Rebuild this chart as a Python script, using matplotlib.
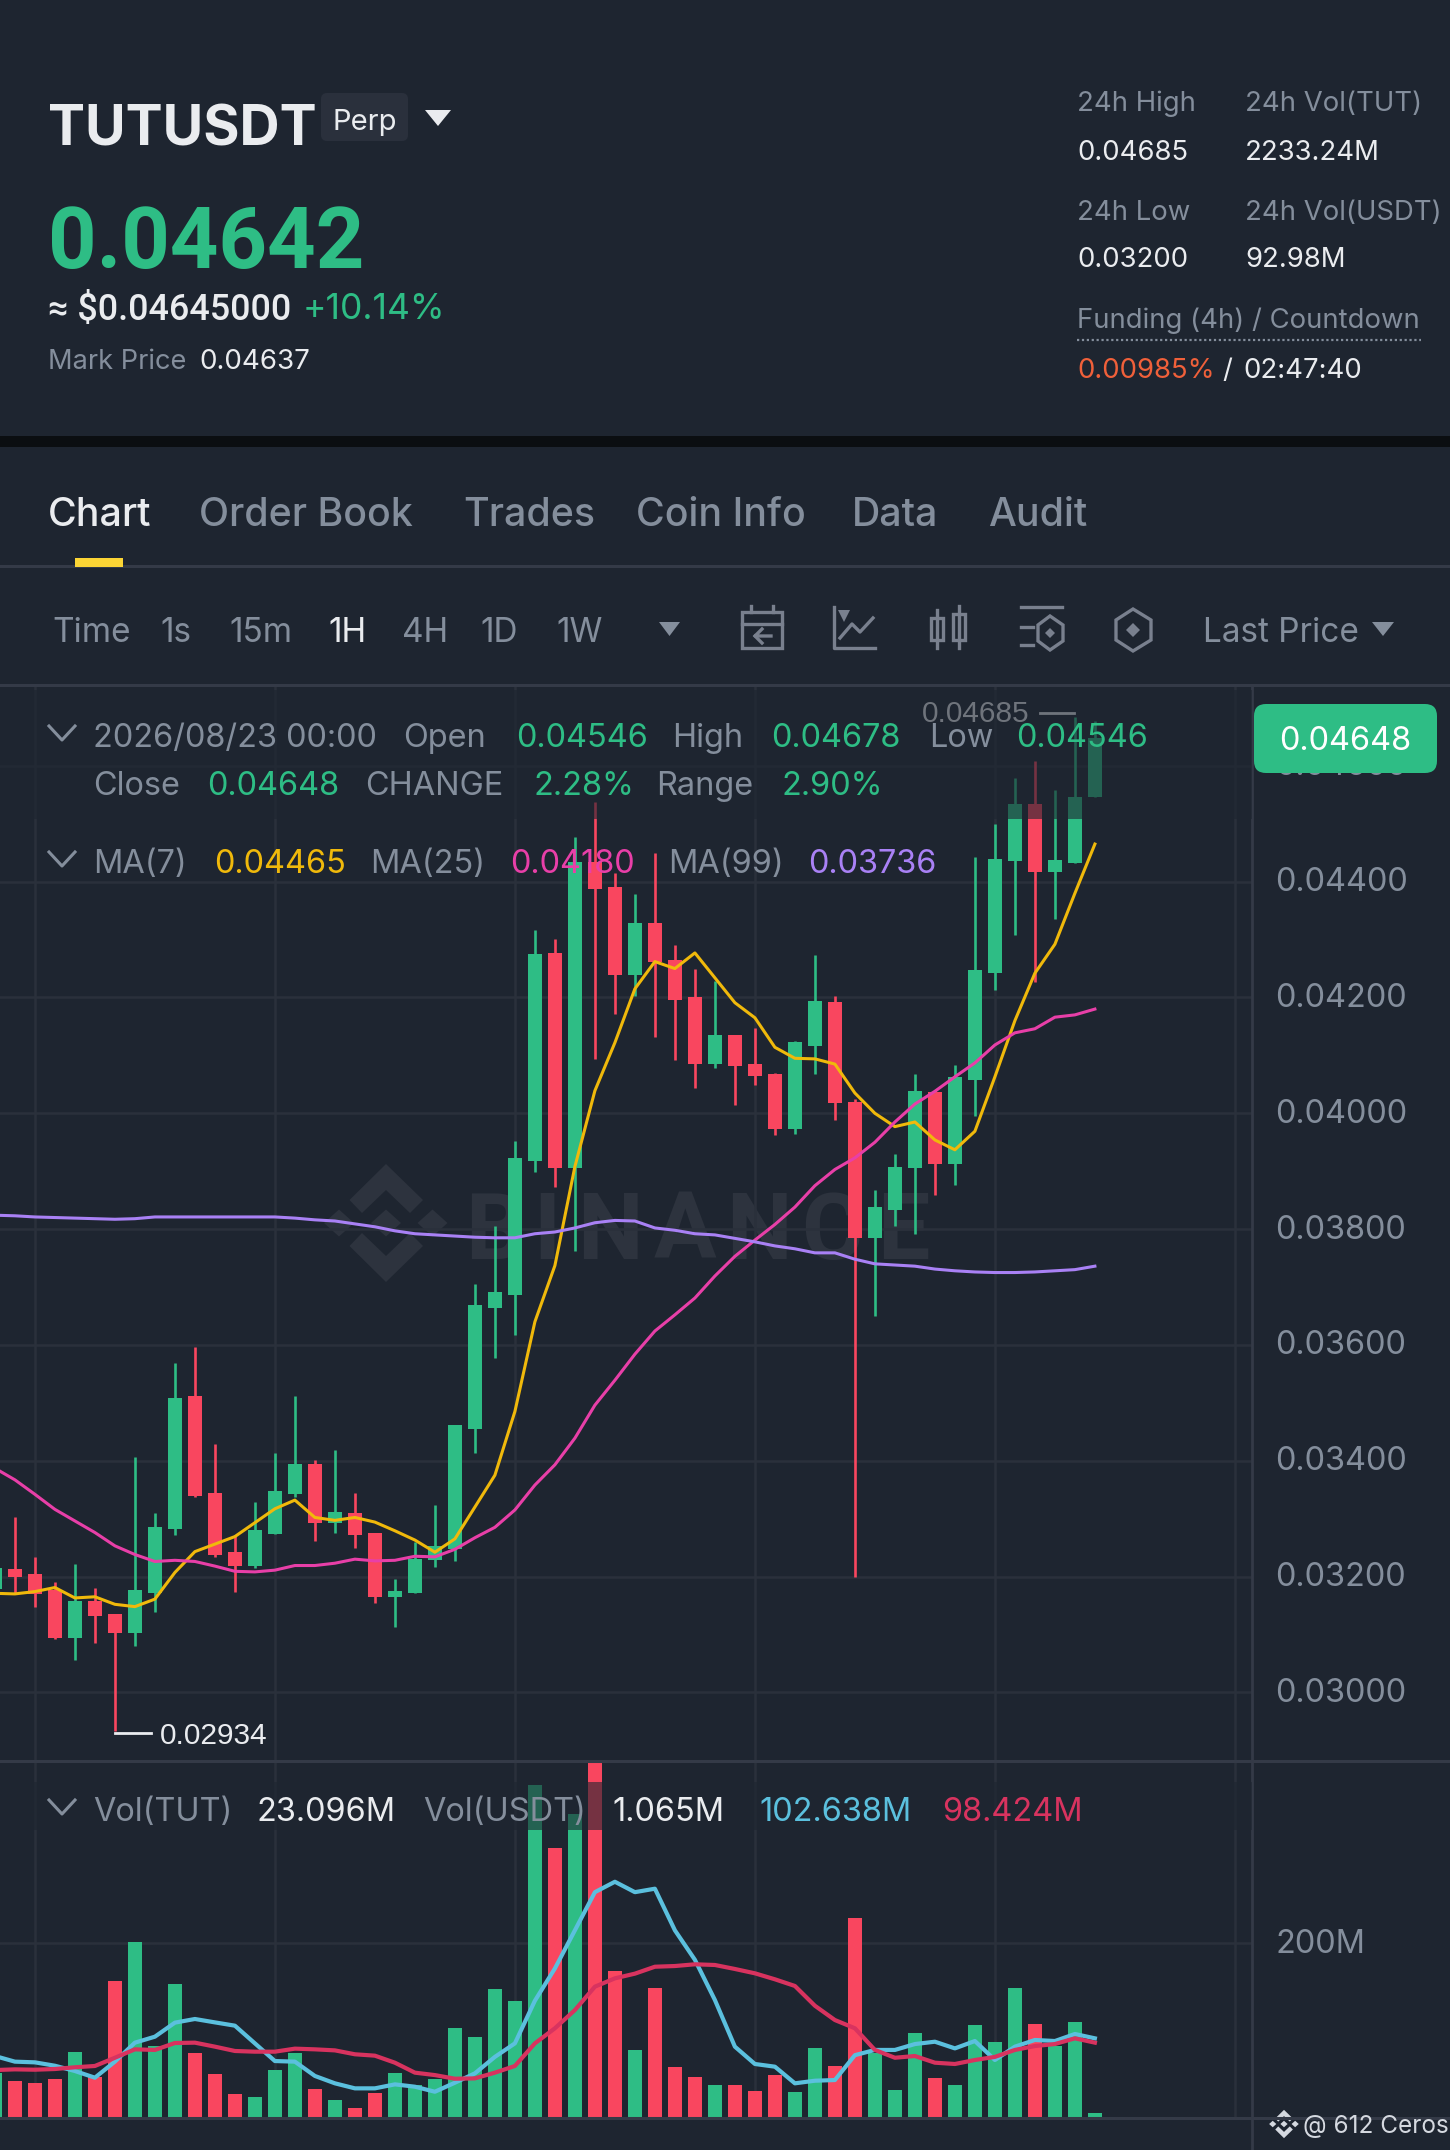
import matplotlib
matplotlib.use('Agg')
import matplotlib.pyplot as plt
from matplotlib.patches import Rectangle, FancyBboxPatch, Polygon
from matplotlib.transforms import ScaledTranslation
import numpy as np

plt.rcParams['font.family'] = ['Inter', 'DejaVu Sans']

# prices are in units of 0.00001
opens = [3179, 3213, 3204, 3176, 3094, 3158, 3135, 3102, 3172, 3282, 3511, 3345, 3243, 3218,
         3274, 3342, 3394, 3293, 3310, 3275, 3164, 3171, 3229, 3248, 3455, 3664, 3686, 3918,
         4276, 3905, 4434, 4391, 4239, 4329, 4265, 4201, 4085, 4135, 4086, 4068, 3973, 4117,
         4193, 4020, 3785, 3833, 3905, 4037, 3912, 4058, 4242, 4435, 4534, 4416, 4432, 4546]
closes = [3214, 3199, 3170, 3093, 3157, 3131, 3102, 3176, 3285, 3509, 3339, 3238, 3218, 3280,
          3347, 3395, 3292, 3311, 3271, 3164, 3175, 3231, 3252, 3461, 3669, 3691, 3923, 4275,
          3905, 4434, 4387, 4238, 4328, 4261, 4196, 4085, 4135, 4082, 4064, 3973, 4124, 4194,
          4017, 3785, 3838, 3908, 4038, 3912, 4063, 4248, 4439, 4534, 4416, 4437, 4546, 4648]
highs = [3230, 3302, 3233, 3190, 3222, 3181, 3135, 3407, 3309, 3568, 3596, 3429, 3272, 3328,
         3413, 3511, 3402, 3419, 3344, 3276, 3195, 3260, 3323, 3462, 3706, 3806, 3953, 4317,
         4301, 4477, 4538, 4415, 4379, 4450, 4291, 4249, 4228, 4135, 4147, 4070, 4125, 4273,
         4203, 4024, 3868, 3929, 4068, 4040, 4083, 4443, 4500, 4579, 4608, 4558, 4685, 4678]
lows = [3160, 3171, 3148, 3092, 3056, 3085, 2934, 3080, 3139, 3271, 3338, 3234, 3174, 3214,
        3274, 3338, 3262, 3276, 3250, 3155, 3113, 3171, 3217, 3226, 3414, 3578, 3617, 3898,
        3873, 3763, 4093, 4172, 4203, 4132, 4092, 4043, 4078, 4014, 4049, 3963, 3964, 4068,
        3989, 3200, 3650, 3806, 3792, 3859, 3876, 3995, 4213, 4308, 4227, 4335, 4432, 4546]
ma7 = [3171, 3170, 3174, 3181, 3163, 3165, 3152, 3148, 3161, 3207, 3243, 3256, 3269, 3293,
       3317, 3332, 3302, 3297, 3302, 3294, 3279, 3263, 3242, 3265, 3320, 3375, 3485, 3640,
       3737, 3908, 4039, 4122, 4215, 4262, 4250, 4277, 4234, 4191, 4165, 4114, 4095, 4094,
       4085, 4035, 4000, 3977, 3985, 3954, 3937, 3969, 4063, 4160, 4242, 4292, 4380, 4465]
ma25 = [3387, 3367, 3342, 3316, 3296, 3276, 3253, 3238, 3226, 3228, 3226, 3218, 3209, 3208,
        3211, 3219, 3219, 3223, 3230, 3227, 3228, 3235, 3234, 3247, 3267, 3285, 3315, 3358,
        3393, 3439, 3496, 3539, 3584, 3624, 3652, 3681, 3719, 3753, 3781, 3808, 3838, 3875,
        3903, 3923, 3950, 3985, 4016, 4038, 4063, 4087, 4118, 4139, 4146, 4166, 4170, 4180]
ma99 = [3824, 3823, 3821, 3820, 3819, 3818, 3817, 3818, 3821, 3821, 3821, 3821, 3821, 3821,
        3821, 3819, 3816, 3814, 3809, 3804, 3797, 3792, 3790, 3788, 3786, 3785, 3785, 3792,
        3795, 3802, 3811, 3815, 3814, 3802, 3798, 3792, 3790, 3784, 3778, 3771, 3766, 3759,
        3759, 3748, 3740, 3738, 3736, 3731, 3728, 3726, 3725, 3725, 3726, 3728, 3730, 3736]

# volume in millions
volume = [50, 41, 39, 43, 75, 46, 157, 202, 81, 153, 74, 49, 26, 23, 54, 74, 32, 19, 10, 27,
          50, 36, 43, 102, 92, 147, 134, 383, 310, 349, 408, 168, 77, 149, 57, 46, 36, 37, 30,
          48, 28, 79, 58, 229, 73, 31, 96, 45, 37, 106, 86, 148, 107, 81, 109, 4]
vol_ma5 = [70, 63.5, 62.7, 58.8, 52.7, 45, 63.5, 85.4, 92.3, 108.5, 112.7, 108.8, 105, 84.6,
           64.2, 63.5, 47, 38.5, 32.7, 32.7, 37.3, 34.6, 28.8, 39.2, 50, 69, 84.6, 133.8, 171,
           215, 259, 271, 259, 263, 215, 181, 134.6, 80.8, 60.8, 57.7, 38.5, 41.5, 42.3, 71,
           77, 77, 83.8, 86.5, 78.8, 87.3, 65.4, 80.8, 88.5, 87.3, 95.4, 90.4]
vol_ma10 = [53.8, 54.6, 54.2, 55, 57, 58.5, 68, 77.7, 77, 85, 85.4, 80.8, 75.8, 75, 75, 78.5,
            77.7, 76.5, 72, 70.4, 62.3, 50.8, 48, 43.8, 44.2, 50.8, 58.5, 84.6, 102, 123, 150,
            159.6, 165, 173, 173.8, 175.8, 175, 170.4, 165.4, 158.5, 150.8, 128, 111.5, 102,
            77, 68, 70, 62.3, 60.8, 65.4, 69, 77, 81.5, 83.8, 90.4, 85.4]

price_ticks = [3000, 3200, 3400, 3600, 3800, 4000, 4200, 4400, 4600]
vol_ticks = [200]
grid_candles = [2, 14, 26, 38, 50, 62]

BG = '#1e2530'
GRID = '#2a303b'
LINE = '#343a47'
GREEN = '#2ebd85'
RED = '#f9465f'
GREY = '#848e9c'
WHITE = '#eaecef'
W, H = 1450, 2150

fig = plt.figure(figsize=(W / 100, H / 100), dpi=100, facecolor=BG)


def pixel_axes(x0, y0, x1, y1, z):
    a = fig.add_axes([x0 / W, 1 - y1 / H, (x1 - x0) / W, (y1 - y0) / H], zorder=z)
    a.patch.set_alpha(0)
    return a


def style_pane(a):
    a.set_xlim(0.255, 62.855)
    a.set_xticks(grid_candles)
    a.yaxis.tick_right()
    a.tick_params(axis='y', length=0, pad=17, labelcolor=GREY, labelsize=23.4)
    a.tick_params(axis='x', length=0, labelbottom=False)
    a.grid(color=GRID, lw=1.8)
    a.set_axisbelow(True)
    for s in a.spines.values():
        s.set_visible(False)
    # axis labels sit a little above their gridlines
    for tick in a.yaxis.get_major_ticks():
        tick.label2.set_transform(tick.label2.get_transform() + ScaledTranslation(0, 0.025, fig.dpi_scale_trans))


def binance_logo(a, cx, cy, k, color):
    # k=1 is the big watermark
    def pts(p):
        return [(cx + u * k, cy + v * k) for u, v in p]
    chev = [(-36.5, -23), (0, -59), (37, -23), (24, -10), (0, -33), (-24, -10)]
    a.add_patch(Polygon(pts(chev), color=color, lw=0))
    a.add_patch(Polygon(pts([(u, -v) for u, v in chev]), color=color, lw=0))
    for dx in (-47, 0, 46.5):
        a.add_patch(Polygon(pts([(dx - 15, 0), (dx, -13.5), (dx + 15, 0), (dx, 13.5)]), color=color, lw=0))


# background layer, watermark sits under the candles
back = pixel_axes(0, 0, W, H, 0)
back.set_xlim(0, W)
back.set_ylim(H, 0)
back.axis('off')
back.add_patch(Rectangle((0, 436), W, 11, color='#0b0e11', lw=0))
WM = '#2d333e'
binance_logo(back, 386, 1223, 1, WM)
for px, ch in [(495, 'B'), (547, 'I'), (610, 'N'), (685, 'A'), (759, 'N'), (832, 'C'), (903, 'E')]:
    back.text(px, 1224, ch, color=WM, fontsize=67, fontweight='bold', family='Roboto', ha='center', va='center_baseline')

x = np.arange(len(opens))
opens, closes, highs, lows = [np.array(v) / 1e5 for v in (opens, closes, highs, lows)]
up = closes >= opens
colors = [GREEN if u else RED for u in up]

# price pane
ax = pixel_axes(0, 685, 1252, 1761, 1)
ax.set_ylim(0.028814, 0.047397)
ax.set_yticks(np.array(price_ticks) / 1e5)
ax.yaxis.set_major_formatter(lambda v, pos: '%.5f' % v)
style_pane(ax)
ax.vlines(x, lows, highs, colors=colors, lw=1.9, zorder=2)
ax.bar(x, np.abs(closes - opens), bottom=np.minimum(opens, closes), width=0.7, color=colors, zorder=3)
ax.plot(x, np.array(ma7) / 1e5, color='#f0b90b', lw=2.2, zorder=4)
ax.plot(x, np.array(ma25) / 1e5, color='#e83fa8', lw=2.2, zorder=4)
ax.plot(x, np.array(ma99) / 1e5, color='#a981f5', lw=2.2, zorder=4)

# volume pane
vx = pixel_axes(0, 1761, 1252, 2118, 1)
vx.set_ylim(-1.5, 410.3)
vx.set_yticks(vol_ticks)
vx.yaxis.set_major_formatter(lambda v, pos: '%dM' % v)
style_pane(vx)
vx.bar(x, volume, width=0.7, color=colors, zorder=3)
vx.plot(x, vol_ma5, color='#5bc0de', lw=3.0, zorder=4)
vx.plot(x, vol_ma10, color='#d8335f', lw=3.0, zorder=4)

# top layer in pixel coordinates, for the app chrome and the legend texts
top = pixel_axes(0, 0, W, H, 2)
top.set_xlim(0, W)
top.set_ylim(H, 0)
top.axis('off')


def label(px, py, s, color=GREY, size=23.4, weight='normal', ha='left', family=None, z=5):
    kw = {'family': family} if family else {}
    top.text(px, py, s, color=color, fontsize=size, fontweight=weight, ha=ha, va='center_baseline', zorder=z, **kw)


def tri(x0, x1, y0, y1, color):
    top.add_patch(Polygon([(x0, y0), (x1, y0), ((x0 + x1) / 2, y1)], color=color, lw=0))


def chevron(px, py):
    top.plot([px, px + 13, px + 26], [py - 7, py + 7, py - 7], color=GREY, lw=2.2, zorder=5)


# the high label sits under the dimming band
MARK_FONT = ['Liberation Sans']
label(922, 711, '0.04685', WHITE, 21.5, family=MARK_FONT, z=2)
top.plot([1040, 1074], [713, 713], color=WHITE, lw=2, zorder=2)
top.add_patch(Rectangle((0, 690), 1252, 129, color=BG, alpha=0.6, lw=0, zorder=3))
top.add_patch(Rectangle((0, 1782), 1252, 48, color=BG, alpha=0.6, lw=0, zorder=3))

# frame lines
top.plot([0, W], [566, 566], color=LINE, lw=2.2)
top.plot([0, W], [685, 685], color=LINE, lw=2.2)
top.plot([0, W], [1761, 1761], color=LINE, lw=2.2)
top.plot([0, W], [2118, 2118], color=LINE, lw=2.2)
top.plot([1252, 1252], [685, H], color=LINE, lw=2)
top.add_patch(Rectangle((75, 558), 48, 9, color='#fcd535', lw=0, zorder=3))

# header
label(48, 125, 'TUTUSDT', WHITE, 40, 'bold')
top.add_patch(FancyBboxPatch((321, 93), 87, 48, boxstyle='round,pad=0,rounding_size=6', color='#2a303c', lw=0))
label(365, 119, 'Perp', WHITE, 21, ha='center')
tri(425, 451, 110, 126, WHITE)
label(48, 236, '0.04642', GREEN, 61, 'bold', family='Roboto')
label(48, 306, '≈ $0.04645000', WHITE, 25.8, 'medium', family=['Roboto', 'DejaVu Sans'])
label(303, 306, '+10.14%', GREEN, 25.5)
label(48, 359, 'Mark Price', GREY, 19.6)
label(199, 359, '0.04637', WHITE, 20)

label(1077, 101, '24h High', GREY, 19.8)
label(1245, 101, '24h Vol(TUT)', GREY, 19.8)
label(1077, 150, '0.04685', WHITE, 19.8)
label(1245, 150, '2233.24M', WHITE, 19.8)
label(1077, 210, '24h Low', GREY, 19.8)
label(1245, 210, '24h Vol(USDT)', GREY, 19.8)
label(1077, 257, '0.03200', WHITE, 19.8)
label(1245, 257, '92.98M', WHITE, 19.8)
label(1077, 318, 'Funding (4h) / Countdown', GREY, 19.8)
top.plot([1077, 1421], [340, 340], color=GREY, lw=1.6, ls=(0, (1, 1.2)))
label(1077, 368, '0.00985%', '#f0603a', 19.8)
label(1222, 368, '/', WHITE, 19.8)
label(1243, 368, '02:47:40', WHITE, 19.8)

# tabs
for px, s in [(199, 'Order Book'), (463, 'Trades'), (636, 'Coin Info'), (852, 'Data'), (988, 'Audit')]:
    label(px, 511, s, GREY, 28.3, 'medium')
label(48, 511, 'Chart', WHITE, 28.3, 'medium')

# toolbar
for px, s in [(52, 'Time'), (160, '1s'), (229, '15m'), (402, '4H'), (480, '1D'), (556, '1W'), (1203, 'Last Price')]:
    label(px, 630, s, GREY, 24)
label(328, 630, '1H', WHITE, 24)
tri(659, 680, 622, 636, GREY)
tri(1372, 1394, 622, 636, GREY)

IC = '#79808e'
top.add_patch(Rectangle((742, 612), 40, 36, fill=False, ec=IC, lw=2.4))
top.plot([742, 782], [624, 624], color=IC, lw=2.4)
top.plot([751, 751], [606, 612], color=IC, lw=2.4)
top.plot([773, 773], [606, 612], color=IC, lw=2.4)
top.plot([771, 755, 762], [636, 636, 629], color=IC, lw=2.4)
top.plot([762, 755], [643, 636], color=IC, lw=2.4)
top.plot([834, 834, 875], [607, 648, 648], color=IC, lw=2.4)
top.plot([840, 852, 860, 873], [638, 624, 632, 618], color=IC, lw=2.4)
tri(838, 850, 610, 622, IC)
for cx, y0, y1 in [(937, 618, 640), (959, 614, 640)]:
    top.add_patch(Rectangle((cx - 6, y0), 12, y1 - y0, fill=False, ec=IC, lw=2.4))
    top.plot([cx, cx], [y0 - 8, y1 + 8], color=IC, lw=2.4)
top.plot([1021, 1062], [607, 607], color=IC, lw=2.4)
top.plot([1021, 1033], [627, 627], color=IC, lw=2.4)
top.plot([1021, 1033], [645, 645], color=IC, lw=2.4)
top.add_patch(Polygon([(1050, 616), (1063, 625), (1063, 641), (1050, 650), (1038, 641), (1038, 625)], fill=False, ec=IC, lw=2.4))
top.add_patch(Polygon([(1050, 628), (1055, 633), (1050, 638), (1045, 633)], color=IC, lw=0))
top.add_patch(Polygon([(1133, 609), (1151, 620), (1151, 640), (1133, 651), (1116, 640), (1116, 620)], fill=False, ec=IC, lw=2.4))
top.add_patch(Polygon([(1133, 623), (1140, 630), (1133, 637), (1126, 630)], color=IC, lw=0))

# price legend
chevron(49, 733)
label(93, 735, '2026/08/23 00:00')
label(403, 735, 'Open')
label(516, 735, '0.04546', GREEN)
label(672, 735, 'High')
label(771, 735, '0.04678', GREEN)
label(929, 735, 'Low')
label(1016, 735, '0.04546', GREEN)
label(93, 783, 'Close')
label(207, 783, '0.04648', GREEN)
label(365, 783, 'CHANGE')
label(534, 783, '2.28%', GREEN)
label(656, 783, 'Range')
label(782, 783, '2.90%', GREEN)
chevron(49, 859)
label(93, 861, 'MA(7)')
label(214, 861, '0.04465', '#f0b90b')
label(370, 861, 'MA(25)')
label(510, 861, '0.04180', '#e83fa8')
label(668, 861, 'MA(99)')
label(808, 861, '0.03736', '#a981f5')

# last price badge
top.add_patch(FancyBboxPatch((1254, 704), 183, 69, boxstyle='round,pad=0,rounding_size=12', color=GREEN, lw=0, zorder=3))
label(1345, 738, '0.04648', 'white', 23.4, ha='center')

# low marker
label(160, 1733, '0.02934', WHITE, 21.5, family=MARK_FONT)
top.plot([115, 151], [1733, 1733], color=WHITE, lw=2)

# volume legend
chevron(49, 1807)
label(93, 1809, 'Vol(TUT)')
label(257, 1809, '23.096M', WHITE)
label(423, 1809, 'Vol(USDT)')
label(612, 1809, '1.065M', WHITE)
label(759, 1809, '102.638M', '#5bc0de')
label(942, 1809, '98.424M', '#d8335f')

# bottom right tag
binance_logo(top, 1284, 2124, 0.24, '#d5d9e0')
label(1303, 2124, '@ 612 Ceros', '#d5d9e0', 17.5)

fig.savefig('out.png', dpi=100, facecolor=BG)
